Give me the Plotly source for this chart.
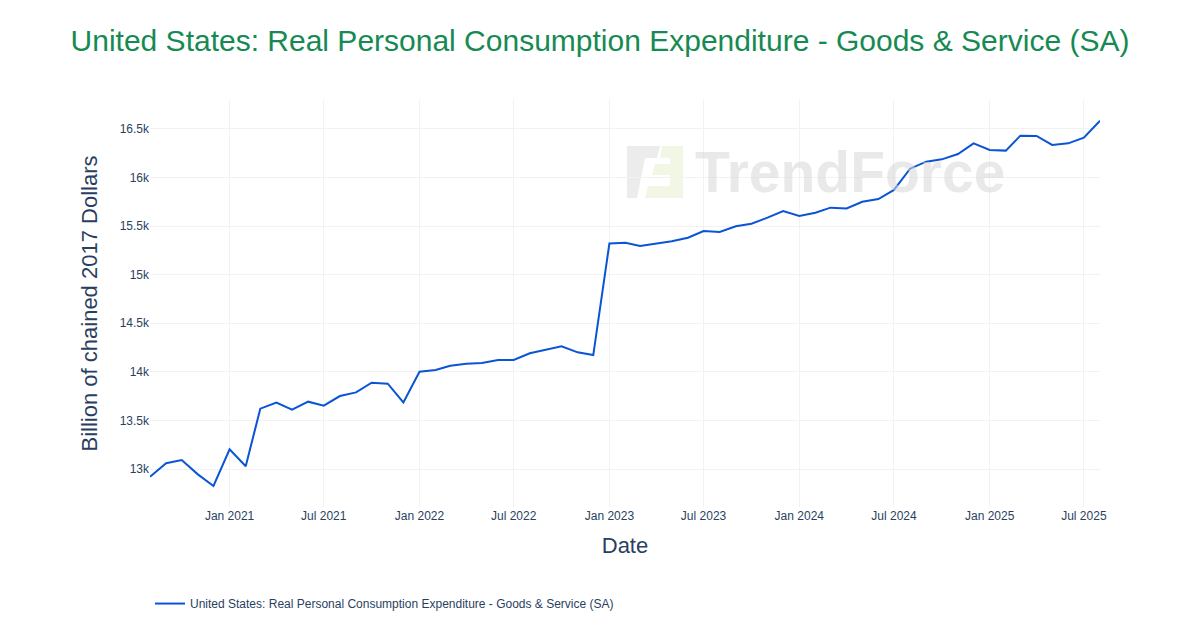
import plotly.graph_objects as go
import pandas as pd

dates = pd.date_range("2020-08-01", "2025-08-01", freq="MS")
values = [
    12921, 13059, 13093, 12945, 12825,
    13203, 13028, 13621, 13683, 13611, 13693, 13652, 13751, 13789, 13888, 13878, 13686,
    14002, 14019, 14063, 14084, 14091, 14122, 14122, 14191, 14228, 14263, 14201, 14173,
    15321, 15328, 15296, 15323, 15344, 15381, 15450, 15440, 15498, 15525, 15587, 15656,
    15604, 15638, 15690, 15682, 15750, 15779, 15872, 16091, 16163, 16187, 16242, 16352,
    16284, 16277, 16431, 16428, 16335, 16352, 16410, 16585,
]
series_name = "United States: Real Personal Consumption Expenditure - Goods & Service (SA)"
title_text = "United States: Real Personal Consumption Expenditure - Goods & Service (SA)"

fig = go.Figure()
fig.add_trace(go.Scatter(
    x=dates, y=values, mode="lines", name=series_name,
    line=dict(color="#0a55d6", width=2),
))

# watermark
fig.add_annotation(
    text="<b>TrendForce</b>", xref="paper", yref="paper", x=0.737, y=0.823,
    xanchor="center", yanchor="middle",
    showarrow=False, font=dict(size=57, color="rgba(215,215,215,0.55)", family="Arial"),
)
def px(x):
    return (x - 150) / 950
def py(y):
    return (507 - y) / 407
fig.add_shape(type="path", xref="paper", yref="paper", layer="below",
              path=f"M {px(627)},{py(146)} L {px(660)},{py(146)} L {px(657)},{py(158)} L {px(645)},{py(158)} L {px(637)},{py(198)} L {px(627)},{py(198)} Z",
              fillcolor="rgba(200,200,200,0.35)", line=dict(width=0))
fig.add_shape(type="path", xref="paper", yref="paper", layer="below",
              path=f"M {px(662)},{py(146)} L {px(683)},{py(146)} L {px(683)},{py(198)} L {px(645)},{py(198)} L {px(648)},{py(186)} L {px(670)},{py(186)} L {px(670)},{py(175)} L {px(652)},{py(175)} L {px(655)},{py(164)} L {px(670)},{py(164)} L {px(670)},{py(158)} L {px(660)},{py(158)} Z",
              fillcolor="rgba(215,230,180,0.35)", line=dict(width=0))

fig.update_layout(
    width=1200, height=630,
    paper_bgcolor="white", plot_bgcolor="white",
    font=dict(family="Liberation Sans, Arial, sans-serif", color="#2a3f5f"),
    title=dict(text=title_text, x=0.5, xanchor="center", y=0.953, yanchor="top",
               font=dict(size=30, color="#168a52")),
    margin=dict(l=150, r=100, t=100, b=123),
    showlegend=True,
    legend=dict(orientation="h", x=0.0, xanchor="left", y=0.065, yanchor="top",
                yref="container", font=dict(size=12)),
    xaxis=dict(
        title=dict(text="Date", font=dict(size=22)),
        range=[dates[0], dates[-1]],
        showgrid=True, gridcolor="#f2f2f2", zeroline=False,
        dtick="M6", tick0="2021-01-01", tickformat="%b %Y",
        tickfont=dict(size=12), ticks="", showline=False,
    ),
    yaxis=dict(
        title=dict(text="Billion of chained 2017 Dollars", font=dict(size=22)),
        range=[12609, 16798],
        showgrid=True, gridcolor="#f2f2f2", zeroline=False,
        dtick=500, tickfont=dict(size=12), ticks="", showline=False,
    ),
)

fig.write_html("out.html")
